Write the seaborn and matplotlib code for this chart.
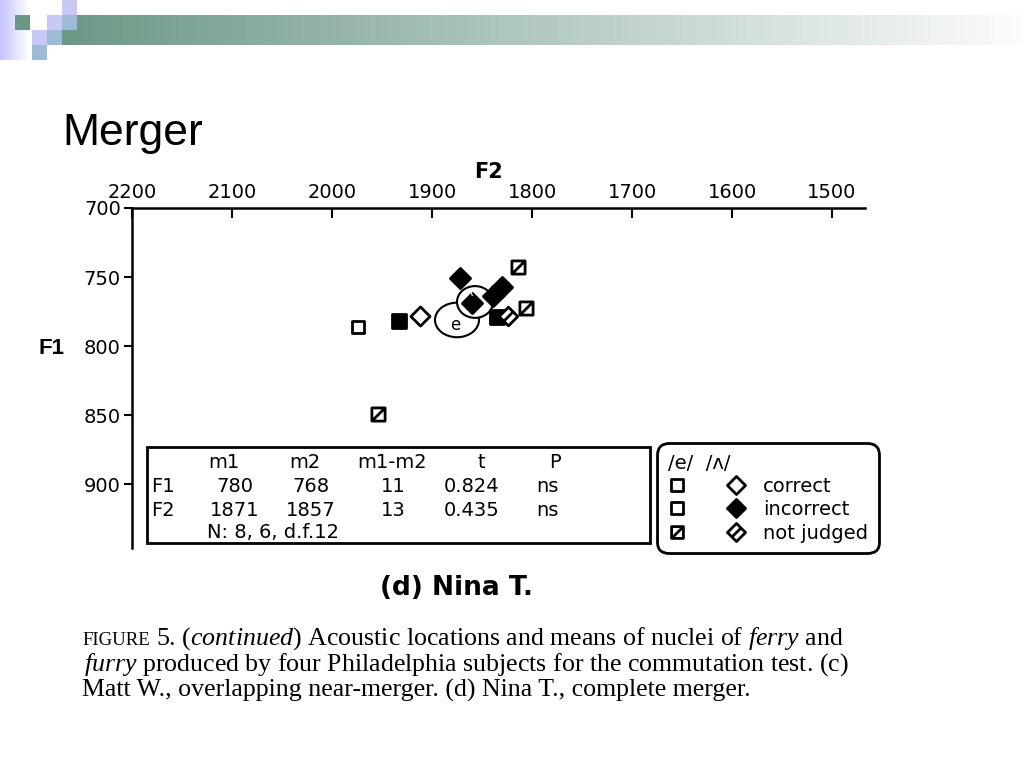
import numpy as np
import pandas as pd
import matplotlib
matplotlib.use("Agg")
import matplotlib.pyplot as plt
import seaborn as sns
from matplotlib.path import Path
from matplotlib.patches import Rectangle, Ellipse
from matplotlib.lines import Line2D
from matplotlib.legend_handler import HandlerTuple

# values (Nina T.)
f2_ticks = [2200, 2100, 2000, 1900, 1800, 1700, 1600, 1500]
f1_ticks = [700, 750, 800, 850, 900]

e_correct_f2 = [1974]
e_correct_f1 = [786]
e_incorrect_f2 = [1933, 1835]
e_incorrect_f1 = [782, 779]
e_notjudged_f2 = [1954, 1814, 1806]
e_notjudged_f1 = [849, 743, 772]

a_correct_f2 = [1912]
a_correct_f1 = [778]
a_incorrect_f2 = [1872, 1830, 1839, 1860]
a_incorrect_f1 = [751, 757, 764, 769]
a_notjudged_f2 = [1824]
a_notjudged_f1 = [778]

e_mean_f1, e_mean_f2 = 780, 1871
a_mean_f1, a_mean_f2 = 768, 1857

table_header = ["m1", "m2", "m1-m2", "t", "P"]
table_rows = ["F1", "F2"]
table_f1 = ["780", "768", "11", "0.824", "ns"]
table_f2 = ["1871", "1857", "13", "0.435", "ns"]
table_note = "N: 8, 6, d.f.12"

legend_labels = ["correct", "incorrect", "not judged"]

sns.set_style("white")
plt.rcParams["font.family"] = ["DejaVu Sans"]
plt.rcParams["text.color"] = "black"
plt.rcParams["axes.labelcolor"] = "black"
plt.rcParams["legend.labelcolor"] = "black"
plt.rcParams["mathtext.fontset"] = "custom"
plt.rcParams["mathtext.rm"] = "Liberation Serif"
plt.rcParams["mathtext.it"] = "Liberation Serif:italic"

# marker shapes
SQUARE = Path([(-1, -1), (1, -1), (1, 1), (-1, 1), (-1, -1)],
              [Path.MOVETO, Path.LINETO, Path.LINETO, Path.LINETO, Path.CLOSEPOLY])
SQUARE_SLASH = Path([(-1, -1), (1, -1), (1, 1), (-1, 1), (-1, -1), (-0.9, -0.9), (0.9, 0.9)],
                    [Path.MOVETO, Path.LINETO, Path.LINETO, Path.LINETO, Path.CLOSEPOLY,
                     Path.MOVETO, Path.LINETO])
DIAMOND = Path([(0, -1), (1, 0), (0, 1), (-1, 0), (0, -1)],
               [Path.MOVETO, Path.LINETO, Path.LINETO, Path.LINETO, Path.CLOSEPOLY])
DIAMOND_SLASH = Path([(0, -1), (1, 0), (0, 1), (-1, 0), (0, -1), (-0.5, -0.5), (0.5, 0.5)],
                     [Path.MOVETO, Path.LINETO, Path.LINETO, Path.LINETO, Path.CLOSEPOLY,
                      Path.MOVETO, Path.LINETO])

rows = []
for vowel, judg, xs, ys in [
    ("e", "correct", e_correct_f2, e_correct_f1),
    ("e", "incorrect", e_incorrect_f2, e_incorrect_f1),
    ("e", "not judged", e_notjudged_f2, e_notjudged_f1),
    ("ʌ", "correct", a_correct_f2, a_correct_f1),
    ("ʌ", "incorrect", a_incorrect_f2, a_incorrect_f1),
    ("ʌ", "not judged", a_notjudged_f2, a_notjudged_f1),
]:
    for x, y in zip(xs, ys):
        rows.append((x, y, vowel, judg))
df = pd.DataFrame(rows, columns=["F2", "F1", "vowel", "judgment"])

styles = {
    ("e", "correct"): dict(marker=SQUARE, s=80, facecolor="white"),
    ("e", "incorrect"): dict(marker=SQUARE, s=110, facecolor="black"),
    ("e", "not judged"): dict(marker=SQUARE_SLASH, s=90, facecolor="white"),
    ("ʌ", "correct"): dict(marker=DIAMOND, s=190, facecolor="white"),
    ("ʌ", "incorrect"): dict(marker=DIAMOND, s=210, facecolor="black"),
    ("ʌ", "not judged"): dict(marker=DIAMOND_SLASH, s=180, facecolor="white"),
}

W, H = 1024, 768
fig = plt.figure(figsize=(W / 100, H / 100), dpi=100)

# slide background layer, pixel coordinates
bg = fig.add_axes([0, 0, 1, 1], zorder=0)
grad = np.linspace(0, 1, 256)[:, None]
band = np.array([108, 152, 134]) / 255 * (1 - grad) + np.array([252, 252, 252]) / 255 * grad
bg.imshow(band[None, :, :], extent=(62, 1024, 45, 15), aspect="auto", zorder=1)
lav = np.array([195, 195, 250]) / 255 * (1 - grad) + np.array([255, 255, 255]) / 255 * grad
bg.imshow(lav[None, :, :], extent=(0, 30, 60, 0), aspect="auto", zorder=1)
lavender, bluegray, green = "#c8c8f5", "#9fbad6", "#6c9684"
for x0, y0, c in [(15, 15, green), (62, 0, lavender), (47, 15, lavender), (62, 15, bluegray),
                  (32, 30, lavender), (47, 30, bluegray), (32, 45, bluegray)]:
    bg.add_patch(Rectangle((x0, y0), 15, 15, color=c, lw=0, zorder=2))
bg.set_xlim(0, W)
bg.set_ylim(H, 0)
bg.axis("off")

bg.text(62, 145, "Merger", fontsize=32, family="Liberation Sans", va="baseline")

# stats table
bg.add_patch(Rectangle((147, 447), 503, 96, fill=False, lw=2, ec="black", zorder=3))
head_x = [224, 305, 392, 481, 555]
col_x = [235, 311, 393, 472, 547]
for hx, h in zip(head_x, table_header):
    bg.text(hx, 463, h, fontsize=14, ha="center", va="center")
for ry, name, vals in [(487, table_rows[0], table_f1), (510, table_rows[1], table_f2)]:
    bg.text(151, ry, name, fontsize=14, ha="left", va="center")
    for cx, v in zip(col_x, vals):
        bg.text(cx, ry, v, fontsize=14, ha="center", va="center")
bg.text(207, 532, table_note, fontsize=14, ha="left", va="center")

bg.text(456, 588, "(d) Nina T.", fontsize=19, fontweight="bold", ha="center", va="center")

# caption
cap_kw = dict(fontsize=18.6, va="baseline", family="Liberation Serif")
t = bg.text(82, 645, "FIGURE", **dict(cap_kw, fontsize=13.5))
fig.canvas.draw()
ext = t.get_window_extent(renderer=fig.canvas.get_renderer())
bg.text(82 + ext.width + 6, 645,
        r"5. ($\mathit{continued}$) Acoustic locations and means of nuclei of $\mathit{ferry}$ and",
        **cap_kw)
bg.text(84, 671,
        r"$\mathit{furry}$ produced by four Philadelphia subjects for the commutation test. (c)",
        **cap_kw)
bg.text(82, 697, "Matt W., overlapping near-merger. (d) Nina T., complete merger.", **cap_kw)

# the plot
ax = fig.add_axes([132 / W, 1 - 548 / H, (865 - 132) / W, (548 - 208) / H], zorder=2)
ax.patch.set_alpha(0)

ax.add_patch(Ellipse((e_mean_f2 + 4, e_mean_f1 + 1), 44, 25, fc="white", ec="black", lw=1.5, zorder=2))
ax.add_patch(Ellipse((a_mean_f2, a_mean_f1), 36, 23, fc="white", ec="black", lw=1.5, zorder=2.5))
ax.text(e_mean_f2 + 6, e_mean_f1 + 5, "e", fontsize=12, ha="center", va="center", zorder=2.6)

for (vowel, judg), sub in df.groupby(["vowel", "judgment"]):
    sns.scatterplot(data=sub, x="F2", y="F1", ax=ax, edgecolor="black", linewidth=2,
                    zorder=3, legend=False, **styles[(vowel, judg)])
ax.text(a_mean_f2 + 6, a_mean_f1 - 7, "ʌ", fontsize=9, color="white", ha="center",
        va="center", zorder=4)

ax.set_xlim(2200, 1467)
ax.set_ylim(946, 700)
ax.set_xticks(f2_ticks)
ax.set_yticks(f1_ticks)
ax.xaxis.tick_top()
ax.tick_params(axis="x", top=True, bottom=False, direction="in", length=7, width=1.5,
               labelsize=14, pad=4, colors="black")
ax.tick_params(axis="y", left=True, direction="out", length=6, width=1.5,
               labelsize=14, pad=2, colors="black")
for side in ["bottom", "right"]:
    ax.spines[side].set_visible(False)
for side in ["top", "left"]:
    ax.spines[side].set_color("black")
    ax.spines[side].set_linewidth(1.8)

ax.xaxis.set_label_position("top")
ax.set_xlabel("F2", fontsize=15, fontweight="bold", va="center")
ax.xaxis.set_label_coords(0.486, 1.106)
ax.set_ylabel("F1", fontsize=16, fontweight="bold", family="Liberation Sans",
              rotation=0, ha="center", va="center")
ax.yaxis.set_label_coords(-0.11, 0.588)

# legend: /e/ and /ʌ/ markers side by side
def mk(marker, fill, size):
    return Line2D([], [], marker=marker, linestyle="none", markersize=size,
                  markerfacecolor=fill, markeredgecolor="black", markeredgewidth=2)

handles = [
    (mk(SQUARE, "white", 8.5), mk(DIAMOND, "white", 13)),
    (mk(SQUARE, "white", 8.5), mk(DIAMOND, "black", 13)),
    (mk(SQUARE_SLASH, "white", 8.5), mk(DIAMOND_SLASH, "white", 13)),
]
leg = ax.legend(handles, legend_labels, handler_map={tuple: HandlerTuple(ndivide=None, pad=2)},
                title="/e/  /ʌ/", alignment="left", loc="upper left",
                bbox_to_anchor=(657, 443), bbox_transform=bg.transData, borderaxespad=0,
                fontsize=14, title_fontsize=14, handlelength=4, handletextpad=0.9,
                labelspacing=0.22, borderpad=0.55, frameon=True, fancybox=True, framealpha=1)
leg.get_frame().set_edgecolor("black")
leg.get_frame().set_linewidth(2)
leg.get_frame().set_boxstyle("round,pad=0,rounding_size=0.6")

fig.savefig("out.png", dpi=100)
